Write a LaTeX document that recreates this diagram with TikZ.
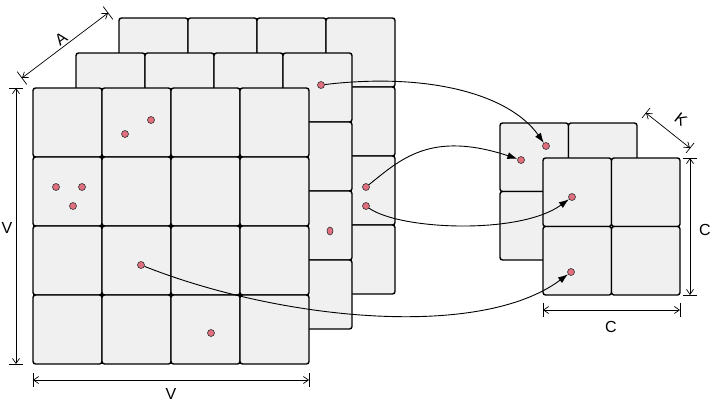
\documentclass[tikz,border=0pt]{standalone}
\usepackage{fontspec}
\setmainfont{Liberation Sans}
\usetikzlibrary{arrows.meta,shapes.geometric,calc}
\definecolor{dotc}{HTML}{E0707F}
\begin{document}
\begin{tikzpicture}[x=1pt,y=-1pt,
  cell/.style={draw=black,line width=1.4pt,fill=gray!12,rounded corners=2.5pt},
  pt/.style={circle,draw=black!80,line width=0.6pt,fill=dotc,inner sep=0pt,minimum size=7pt},
  link/.style={-{Latex[length=10pt,width=7pt]},line width=0.9pt},
  dim/.style={{Straight Barb[length=5pt,width=7pt]}-{Straight Barb[length=5pt,width=7pt]},line width=0.7pt},
  tick/.style={line width=0.7pt},
  lab/.style={font=\fontsize{16}{16}\selectfont}]
\useasboundingbox (0,0) rectangle (714,402);
% left grids: back, middle, front
\foreach \ox/\oy in {119/18,76/53,33/88}{
  \foreach \i in {0,...,3}{\foreach \j in {0,...,3}{
    \draw[cell] (\ox+69*\i,\oy+69*\j) rectangle ++(69,69);}}
  \ifnum\ox=119
    \node[pt] (b1) at (366,187) {};
    \node[pt] (b2) at (366,206) {};
  \fi
  \ifnum\ox=76
    \node[pt] (m1) at (321,85) {};
    \node[pt,ellipse,minimum height=8pt,minimum width=6pt] (m2) at (330,231) {};
  \fi
}
\node[pt] (f1) at (151,120) {};
\node[pt] (f2) at (125,134) {};
\node[pt] (f3) at (56,187) {};
\node[pt] (f4) at (82,187) {};
\node[pt] (f5) at (73,206) {};
\node[pt] (f6) at (141,265) {};
\node[pt] (f7) at (211,333) {};
% right grids
\foreach \ox/\oy in {500/123,543/158}{
  \foreach \i in {0,1}{\foreach \j in {0,1}{
    \draw[cell] (\ox+68.5*\i,\oy+68.5*\j) rectangle ++(68.5,68.5);}}
  \ifnum\ox=500
    \node[pt] (r1) at (546,146) {};
    \node[pt] (r2) at (521,160) {};
  \fi
}
\node[pt] (r3) at (572,197) {};
\node[pt] (r4) at (571,272) {};
% connectors
\draw[link] (m1) .. controls (430,72) and (510,95) .. (r1);
\draw[link] (b1) .. controls (400,160) and (430,130) .. (r2);
\draw[link] (b2) .. controls (400,230) and (520,235) .. (r3);
\draw[link] (f6) .. controls (280,320) and (480,340) .. (r4);
% dimensions
\coordinate (a1) at (22,78); \coordinate (a2) at (108,13);
\draw[dim] (a1) -- (a2);
\draw[tick] ($(a1)+(-4.8,-6.4)$) -- ($(a1)+(4.8,6.4)$);
\draw[tick] ($(a2)+(-4.8,-6.4)$) -- ($(a2)+(4.8,6.4)$);
\node[lab,rotate=37] (la) at (61,39) {A};
\coordinate (v1) at (16,88); \coordinate (v2) at (16,364);
\draw[dim] (v1) -- (v2);
\draw[tick] (9,88) -- (23,88); \draw[tick] (9,364) -- (23,364);
\node[lab] (lv) at (7,228) {V};
\coordinate (h1) at (33,380); \coordinate (h2) at (309,380);
\draw[dim] (h1) -- (h2);
\draw[tick] (33,373) -- (33,387); \draw[tick] (309,373) -- (309,387);
\node[lab] (lh) at (171,394) {V};
\coordinate (k1) at (646,113); \coordinate (k2) at (690,148);
\draw[dim] (k1) -- (k2);
\draw[tick] (642,118) -- (650,108); \draw[tick] (686,153) -- (694,143);
\node[lab,rotate=-38] (lk) at (681,119) {K};
\coordinate (c1) at (690,158); \coordinate (c2) at (690,295);
\draw[dim] (c1) -- (c2);
\draw[tick] (683,158) -- (697,158); \draw[tick] (683,295) -- (697,295);
\node[lab] (lc) at (705,230) {C};
\coordinate (d1) at (543,310); \coordinate (d2) at (680,310);
\draw[dim] (d1) -- (d2);
\draw[tick] (543,303) -- (543,317); \draw[tick] (680,303) -- (680,317);
\node[lab] (ld) at (611,327) {C};
\end{tikzpicture}
\end{document}
